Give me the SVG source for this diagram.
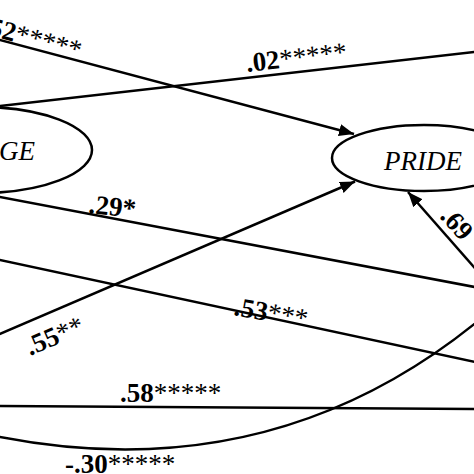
<svg xmlns="http://www.w3.org/2000/svg" width="474" height="474" viewBox="0 0 474 474">
<style>
.edge{fill:none;stroke:#000;stroke-width:2.5}
.node{fill:#fff;stroke:#000;stroke-width:2.5}
.ntext{font-family:"Liberation Serif","Times New Roman",serif;font-style:italic;font-size:27px;fill:#000}
.lbl{font-family:"Liberation Serif","Times New Roman",serif;font-weight:bold;font-size:27px;fill:#000}
.ast{font-weight:normal}
</style>
<defs>
<marker id="arr" markerUnits="userSpaceOnUse" markerWidth="15" markerHeight="12" refX="15" refY="6" orient="auto">
<path d="M0,0 L15,6 L0,12 z" fill="#000"/>
</marker>
</defs>
<rect width="474" height="474" fill="#fff"/>
<g id="connectors">
<path class="edge" d="M-5,38.7 L354,134" marker-end="url(#arr)"/>
<path class="edge" d="M-5,106.6 L480,51.3"/>
<path class="edge" d="M-5,196 L480,288"/>
<path class="edge" d="M-5,259 L480,363"/>
<path class="edge" d="M-5,336 L355,181.5" marker-end="url(#arr)"/>
<path class="edge" d="M-5,406 L480,409"/>
<path class="edge" d="M-5,436 Q269,491 478,321"/>
<path class="edge" d="M480,274 L408,192" marker-end="url(#arr)"/>
<text class="lbl" transform="translate(-19,33) rotate(15)">.52<tspan class="ast">*****</tspan></text>
<text class="lbl" transform="translate(247,72) rotate(-6.5)">.02<tspan class="ast">*****</tspan></text>
<text class="lbl" transform="translate(88,213) rotate(6)">.29*</text>
<text class="lbl" transform="translate(233,315) rotate(10)">.53<tspan class="ast">***</tspan></text>
<text class="lbl" transform="translate(30,356) rotate(-23)">.55<tspan class="ast">**</tspan></text>
<text class="lbl" x="120" y="402">.58<tspan class="ast">*****</tspan></text>
<text class="lbl" x="65" y="473">-.30<tspan class="ast">*****</tspan></text>
<text class="lbl" transform="translate(439,217) rotate(48)">.69</text>
</g>
<g id="node-ge">
<ellipse class="node" cx="-20" cy="150" rx="112" ry="43"/>
<text class="ntext" x="35" y="160" text-anchor="end">GE</text>
</g>
<g id="node-pride">
<ellipse class="node" cx="424" cy="158" rx="92" ry="33"/>
<text class="ntext" x="423" y="170" text-anchor="middle">PRIDE</text>
</g>
</svg>
